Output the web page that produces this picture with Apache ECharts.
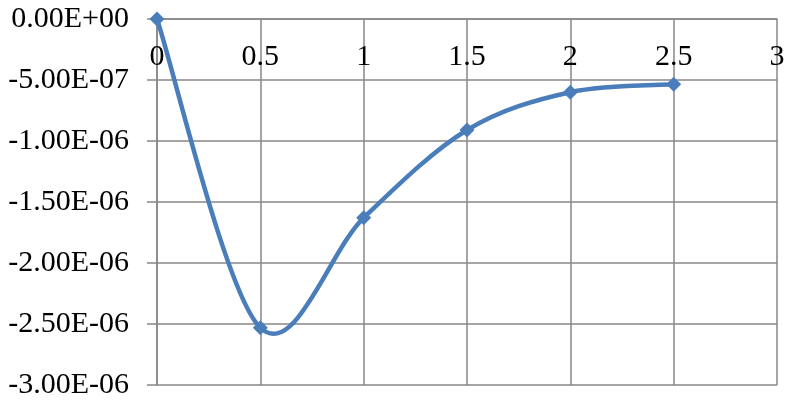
<!DOCTYPE html>
<html><head><meta charset="utf-8">
<script src="https://cdn.jsdelivr.net/npm/echarts@6/dist/echarts.min.js"></script>
<style>html,body{margin:0;padding:0;background:#fff}#c{width:785px;height:406px}</style>
</head><body><div id="c"></div>
<script>
const xValues = [0, 0.5, 1, 1.5, 2, 2.5];
const yValues = [0, -2.53e-6, -1.63e-6, -0.91e-6, -0.60e-6, -0.535e-6];
const xTickLabels = ['0', '0.5', '1', '1.5', '2', '2.5', '3'];
const yTickLabels = ['-3.00E-06', '-2.50E-06', '-2.00E-06', '-1.50E-06', '-1.00E-06', '-5.00E-07', '0.00E+00'];

const chart = echarts.init(document.getElementById('c'));
const font = '"Liberation Serif", "Times New Roman", serif';
const lineColor = '#4a7ebb';
const points = xValues.map((x, i) => [x, yValues[i]]);

// Excel-style smoothed segment (Catmull-Rom, tension 1/6) between point i and i+1,
// positioned through the chart's own coordinate system.
function renderSegment(params, api) {
  const i = params.dataIndex;
  const n = points.length;
  if (i >= n - 1) return null;
  const P = k => api.coord(points[Math.max(0, Math.min(n - 1, k))]);
  const p0 = P(i - 1), p1 = P(i), p2 = P(i + 1), p3 = P(i + 2);
  return {
    type: 'bezierCurve',
    shape: {
      x1: p1[0], y1: p1[1], x2: p2[0], y2: p2[1],
      cpx1: p1[0] + (p2[0] - p0[0]) / 6, cpy1: p1[1] + (p2[1] - p0[1]) / 6,
      cpx2: p2[0] - (p3[0] - p1[0]) / 6, cpy2: p2[1] - (p3[1] - p1[1]) / 6
    },
    style: { stroke: lineColor, lineWidth: 4.5, fill: null, lineCap: 'round' }
  };
}

chart.setOption({
  animation: false,
  grid: { left: 157, right: 8, top: 19, bottom: 21, containLabel: false, outerBoundsMode: 'none' },
  xAxis: {
    type: 'value', min: 0, max: 3, interval: 0.5, position: 'top',
    axisLine: { show: true, onZero: false, lineStyle: { color: '#878787', width: 1.5 } },
    axisTick: { show: false },
    axisLabel: { inside: true, margin: 23, color: '#000', fontFamily: font, fontSize: 30,
      formatter: (v, i) => xTickLabels[i] },
    splitLine: { show: true, lineStyle: { color: '#878787', width: 1.5 } }
  },
  yAxis: {
    type: 'value', min: -3e-6, max: 0, interval: 5e-7,
    axisLine: { show: true, lineStyle: { color: '#878787', width: 1.5 } },
    axisTick: { show: true, length: 10, lineStyle: { color: '#878787', width: 1.5 } },
    axisLabel: { margin: 28, color: '#000', fontFamily: font, fontSize: 30,
      formatter: (v, i) => yTickLabels[i] },
    splitLine: { show: true, lineStyle: { color: '#878787', width: 1.5 } }
  },
  series: [
    {
      type: 'custom',
      data: points,
      renderItem: renderSegment,
      clip: false,
      z: 2
    },
    {
      type: 'scatter',
      data: points,
      symbol: 'diamond', symbolSize: 15,
      itemStyle: { color: lineColor, opacity: 1 },
      z: 3
    }
  ]
});
</script></body></html>
